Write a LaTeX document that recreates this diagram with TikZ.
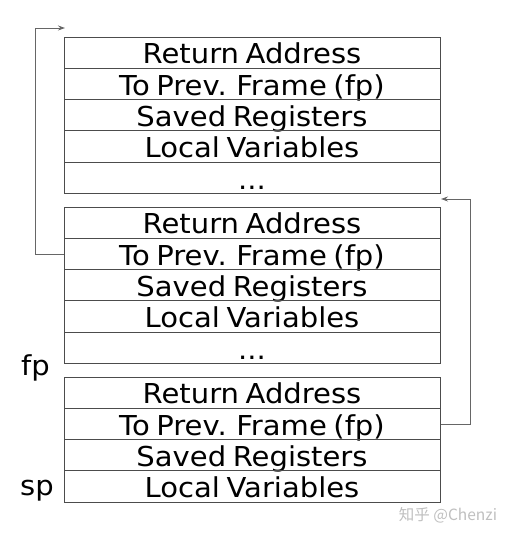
\documentclass[tikz,border=0pt]{standalone}
\usepackage{fontspec}
\setmainfont[FakeStretch=1.06]{DejaVu Sans}
\newfontfamily\cjkfont{Noto Sans CJK SC}
\usetikzlibrary{arrows.meta}
\newcommand{\slotfont}{\fontsize{27.4}{32}\selectfont\spaceskip=0.24em\relax}
\tikzset{
  slot/.style={draw=black!70, line width=1pt, minimum width=376pt, minimum height=31.3pt,
    inner sep=0pt, text height=22.3pt, text depth=0pt, font=\slotfont},
  reg/.style={inner sep=0pt, anchor=base, font=\slotfont},
  link/.style={draw=black!60, line width=0.9pt, -{Stealth[length=7pt,width=5pt]}}
}
\begin{document}
\begin{tikzpicture}[x=1pt,y=-1pt]
\useasboundingbox (0,0) rectangle (510,537);

\draw (252,52.7) node[slot] (ra1) {Return Address} ;
\draw (252,84.0) node[slot] (pf1) {To Prev. Frame (fp)} ;
\draw (252,115.3) node[slot] (sr1) {Saved Registers} ;
\draw (252,146.6) node[slot] (lv1) {Local Variables} ;
\draw (252,177.9) node[slot] (dt1) {...} ;

\draw (252,222.7) node[slot] (ra2) {Return Address} ;
\draw (252,254.0) node[slot] (pf2) {To Prev. Frame (fp)} ;
\draw (252,285.3) node[slot] (sr2) {Saved Registers} ;
\draw (252,316.6) node[slot] (lv2) {Local Variables} ;
\draw (252,347.9) node[slot] (dt2) {...} ;

\draw (252,392.7) node[slot] (ra3) {Return Address} ;
\draw (252,424.0) node[slot] (pf3) {To Prev. Frame (fp)} ;
\draw (252,455.3) node[slot] (sr3) {Saved Registers} ;
\draw (252,486.6) node[slot] (lv3) {Local Variables} ;

\draw (35.5,375) node[reg] (fp) {fp} ;
\draw (37,495) node[reg] (sp) {sp} ;

\coordinate (in1) at (65,28) ;
\coordinate (in2) at (441,199) ;
\draw[link] (pf2.west) -- ++(-28,0) |- (in1) ;
\draw[link] (pf3.east) -- ++(30,0) |- (in2) ;

\draw (448,515) node[text=black!25, inner sep=0pt, font=\cjkfont\fontsize{15.5}{18}\selectfont] (mark) {知乎 @Chenzi} ;
\end{tikzpicture}
\end{document}
